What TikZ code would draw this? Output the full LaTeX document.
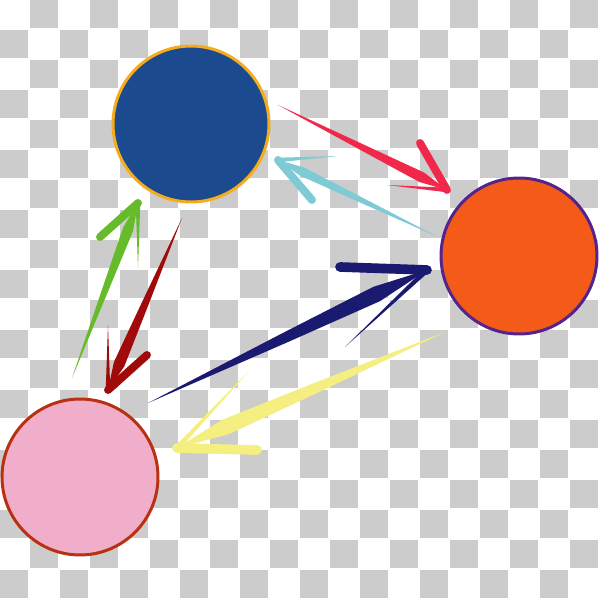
\documentclass[tikz,border=0pt]{standalone}
\usetikzlibrary{calc}
\definecolor{checkgray}{HTML}{CCCCCC}
\definecolor{bluefill}{HTML}{1B4A8F}
\definecolor{bluerim}{HTML}{F5AC1C}
\definecolor{orangefill}{HTML}{F55B18}
\definecolor{orangerim}{HTML}{55238C}
\definecolor{pinkfill}{HTML}{F1AECA}
\definecolor{pinkrim}{HTML}{B83110}
\definecolor{crimson}{HTML}{F0284A}
\definecolor{cyan}{HTML}{7ECBD6}
\definecolor{grass}{HTML}{66BB2A}
\definecolor{darkred}{HTML}{A00A0A}
\definecolor{navy}{HTML}{1A1A70}
\definecolor{butter}{HTML}{F5EE80}
\tikzset{
    blob/.style = {
        draw,
        shape=circle,
        minimum size=3.12cm,
        inner sep=0pt,
        line width=1.7pt
    },
    check/.style = {
        fill=checkgray
    },
    barb/.style = {
        line width=4.5pt,
        line cap=round
    },
}

\begin{document}
\begin{tikzpicture}[x=0.02cm,y=0.02cm]
            \useasboundingbox (0,0) rectangle (600,600);
            \fill[white] (0,0) rectangle (600,600);
            \foreach \i in {0,...,19}
                \foreach \j in {0,...,19}
                    {\ifodd\numexpr\i+\j\relax
                        \fill[check] (30*\i,572-30*\j) rectangle ++(28,28);
                    \fi}

            \node[blob, fill=bluefill, draw=bluerim] (blue) at (191,476) {};
            \node[blob, fill=orangefill, draw=orangerim] (orange) at (519,344) {};
            \node[blob, fill=pinkfill, draw=pinkrim] (pink) at (80,123) {};

            % blue to orange
            \coordinate (bo1) at (278,495);
            \coordinate (bo2) at (447,410);
            \coordinate (bo3) at (420,457);
            \coordinate (bo4) at (387,415);
            \coordinate (bon) at ($(bo1)!0.5!(bo2)$);
            \coordinate (bom) at ($(bo1)!0.85!(bo2)$);
            \path[fill=crimson] (bo1) -- ($(bon)!1.8pt!90:(bo2)$) -- ($(bom)!3pt!90:(bo2)$) -- (bo2)
            -- ($(bom)!3pt!-90:(bo2)$) -- ($(bon)!1.8pt!-90:(bo2)$) -- cycle;
            \path[draw, barb, color=crimson] (bo2) -- (bo3);
            \path[fill=crimson] (bo4) -- ($(bo2)!1.3pt!90:(bo4)$) -- ($(bo2)!1.3pt!-90:(bo4)$) -- cycle;

            % orange to blue
            \coordinate (ob1) at (438,363);
            \coordinate (ob2) at (278,440);
            \coordinate (ob3) at (312,400);
            \coordinate (ob4) at (338,444);
            \coordinate (obn) at ($(ob1)!0.5!(ob2)$);
            \coordinate (obm) at ($(ob1)!0.85!(ob2)$);
            \path[fill=cyan] (ob1) -- ($(obn)!1.6pt!90:(ob2)$) -- ($(obm)!2.6pt!90:(ob2)$) -- (ob2)
            -- ($(obm)!2.6pt!-90:(ob2)$) -- ($(obn)!1.6pt!-90:(ob2)$) -- cycle;
            \path[draw, barb, color=cyan] (ob2) -- (ob3);
            \path[fill=cyan] (ob4) -- ($(ob2)!1.3pt!90:(ob4)$) -- ($(ob2)!1.3pt!-90:(ob4)$) -- cycle;

            % pink to blue
            \coordinate (pb1) at (72,222);
            \coordinate (pb2) at (138,397);
            \coordinate (pb3) at (100,363);
            \coordinate (pb4) at (138,332);
            \coordinate (pbn) at ($(pb1)!0.5!(pb2)$);
            \coordinate (pbm) at ($(pb1)!0.85!(pb2)$);
            \path[fill=grass] (pb1) -- ($(pbn)!1.8pt!90:(pb2)$) -- ($(pbm)!3pt!90:(pb2)$) -- (pb2)
            -- ($(pbm)!3pt!-90:(pb2)$) -- ($(pbn)!1.8pt!-90:(pb2)$) -- cycle;
            \path[draw, barb, color=grass] (pb2) -- (pb3);
            \path[fill=grass] (pb4) -- ($(pb2)!1.3pt!90:(pb4)$) -- ($(pb2)!1.3pt!-90:(pb4)$) -- cycle;

            % blue to pink
            \coordinate (bp1) at (182,382);
            \coordinate (bp2) at (108,210);
            \coordinate (bp3) at (147,245);
            \coordinate (bp4) at (108,275);
            \coordinate (bpn) at ($(bp1)!0.5!(bp2)$);
            \coordinate (bpm) at ($(bp1)!0.85!(bp2)$);
            \path[fill=darkred] (bp1) -- ($(bpn)!2pt!90:(bp2)$) -- ($(bpm)!3.2pt!90:(bp2)$) -- (bp2)
            -- ($(bpm)!3.2pt!-90:(bp2)$) -- ($(bpn)!2pt!-90:(bp2)$) -- cycle;
            \path[draw, barb, color=darkred] (bp2) -- (bp3);
            \path[fill=darkred] (bp4) -- ($(bp2)!1.3pt!90:(bp4)$) -- ($(bp2)!1.3pt!-90:(bp4)$) -- cycle;

            % pink to orange
            \coordinate (po1) at (148,197);
            \coordinate (po2) at (427,330);
            \coordinate (po3) at (340,333);
            \coordinate (po4) at (345,253);
            \coordinate (pon) at ($(po1)!0.5!(po2)$);
            \coordinate (pom) at ($(po1)!0.82!(po2)$);
            \path[fill=navy] (po1) -- ($(pon)!3pt!90:(po2)$) -- ($(pom)!4.5pt!90:(po2)$) -- (po2)
            -- ($(pom)!4.5pt!-90:(po2)$) -- ($(pon)!3pt!-90:(po2)$) -- cycle;
            \path[draw, barb, color=navy, line width=5.5pt] (po2) -- (po3);
            \path[fill=navy] (po4) -- ($(po2)!1.5pt!90:(po4)$) -- ($(po2)!1.5pt!-90:(po4)$) -- cycle;

            % orange to pink
            \coordinate (op1) at (445,268);
            \coordinate (op2) at (177,152);
            \coordinate (op3) at (257,150);
            \coordinate (op4) at (250,230);
            \coordinate (opn) at ($(op1)!0.5!(op2)$);
            \coordinate (opm) at ($(op1)!0.82!(op2)$);
            \path[fill=butter] (op1) -- ($(opn)!3pt!90:(op2)$) -- ($(opm)!4.5pt!90:(op2)$) -- (op2)
            -- ($(opm)!4.5pt!-90:(op2)$) -- ($(opn)!3pt!-90:(op2)$) -- cycle;
            \path[draw, barb, color=butter, line width=5.5pt] (op2) -- (op3);
            \path[fill=butter] (op4) -- ($(op2)!1.5pt!90:(op4)$) -- ($(op2)!1.5pt!-90:(op4)$) -- cycle;
\end{tikzpicture}
\end{document}
